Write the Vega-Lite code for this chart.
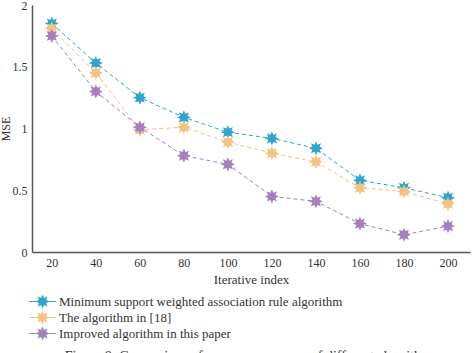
{
  "$schema": "https://vega.github.io/schema/vega-lite/v6.json",
  "width": 438,
  "height": 247,
  "autosize": "none",
  "padding": {"left": 32, "top": 5, "right": 4, "bottom": 101},
  "background": "white",
  "config": {"font": "Liberation Serif", "view": {"stroke": null}},
  "title": {"text": "Figure 8: Comparison of mean square error of different algorithms", "orient": "bottom", "anchor": "middle", "fontSize": 14, "fontWeight": "normal", "color": "#333", "offset": 9},
  "data": {"values": [
    {"iter": 20, "mse": 1.85, "alg": "Minimum support weighted association rule algorithm"},
    {"iter": 40, "mse": 1.53, "alg": "Minimum support weighted association rule algorithm"},
    {"iter": 60, "mse": 1.25, "alg": "Minimum support weighted association rule algorithm"},
    {"iter": 80, "mse": 1.09, "alg": "Minimum support weighted association rule algorithm"},
    {"iter": 100, "mse": 0.97, "alg": "Minimum support weighted association rule algorithm"},
    {"iter": 120, "mse": 0.92, "alg": "Minimum support weighted association rule algorithm"},
    {"iter": 140, "mse": 0.84, "alg": "Minimum support weighted association rule algorithm"},
    {"iter": 160, "mse": 0.58, "alg": "Minimum support weighted association rule algorithm"},
    {"iter": 180, "mse": 0.52, "alg": "Minimum support weighted association rule algorithm"},
    {"iter": 200, "mse": 0.44, "alg": "Minimum support weighted association rule algorithm"},
    {"iter": 20, "mse": 1.81, "alg": "The algorithm in [18]"},
    {"iter": 40, "mse": 1.45, "alg": "The algorithm in [18]"},
    {"iter": 60, "mse": 0.99, "alg": "The algorithm in [18]"},
    {"iter": 80, "mse": 1.01, "alg": "The algorithm in [18]"},
    {"iter": 100, "mse": 0.89, "alg": "The algorithm in [18]"},
    {"iter": 120, "mse": 0.80, "alg": "The algorithm in [18]"},
    {"iter": 140, "mse": 0.73, "alg": "The algorithm in [18]"},
    {"iter": 160, "mse": 0.52, "alg": "The algorithm in [18]"},
    {"iter": 180, "mse": 0.49, "alg": "The algorithm in [18]"},
    {"iter": 200, "mse": 0.39, "alg": "The algorithm in [18]"},
    {"iter": 20, "mse": 1.75, "alg": "Improved algorithm in this paper"},
    {"iter": 40, "mse": 1.30, "alg": "Improved algorithm in this paper"},
    {"iter": 60, "mse": 1.01, "alg": "Improved algorithm in this paper"},
    {"iter": 80, "mse": 0.78, "alg": "Improved algorithm in this paper"},
    {"iter": 100, "mse": 0.71, "alg": "Improved algorithm in this paper"},
    {"iter": 120, "mse": 0.45, "alg": "Improved algorithm in this paper"},
    {"iter": 140, "mse": 0.41, "alg": "Improved algorithm in this paper"},
    {"iter": 160, "mse": 0.23, "alg": "Improved algorithm in this paper"},
    {"iter": 180, "mse": 0.14, "alg": "Improved algorithm in this paper"},
    {"iter": 200, "mse": 0.21, "alg": "Improved algorithm in this paper"}
  ]},
  "encoding": {
    "x": {"field": "iter", "type": "quantitative",
      "scale": {"domain": [11, 210], "nice": false, "zero": false},
      "axis": {"values": [20, 40, 60, 80, 100, 120, 140, 160, 180, 200], "title": "Iterative index", "grid": false, "ticks": false, "domainColor": "#555", "domainWidth": 1.5, "labelFontSize": 12, "labelColor": "#333", "labelPadding": 5, "titleFontSize": 13, "titleFontWeight": "normal", "titleColor": "#333", "titlePadding": 5}},
    "y": {"field": "mse", "type": "quantitative",
      "scale": {"domain": [0, 2], "nice": false},
      "axis": {"values": [0, 0.5, 1, 1.5, 2], "format": "~g", "title": "MSE", "grid": false, "ticks": false, "domainColor": "#555", "domainWidth": 1.5, "labelFontSize": 12, "labelColor": "#333", "labelPadding": 5, "titleFontSize": 12, "titleFontWeight": "normal", "titleColor": "#333", "titlePadding": 0}},
    "color": {"field": "alg", "type": "nominal", "sort": null,
      "scale": {"domain": ["Minimum support weighted association rule algorithm", "The algorithm in [18]", "Improved algorithm in this paper"], "range": ["#2fa4cc", "#f4c283", "#a57fc0"]},
      "legend": {"orient": "none", "legendX": 3, "legendY": 289, "title": null, "labelFontSize": 13, "labelColor": "#333", "labelLimit": 0, "symbolSize": 200, "rowPadding": 1, "labelOffset": 9, "symbolStrokeWidth": 0,
        "symbolType": "M0,-1L0.21,-0.51L0.707,-0.707L0.51,-0.21L1,0L0.51,0.21L0.707,0.707L0.21,0.51L0,1L-0.21,0.51L-0.707,0.707L-0.51,0.21L-1,0L-0.51,-0.21L-0.707,-0.707L-0.21,-0.51ZM-1.9,-0.06L1.9,-0.06L1.9,0.06L-1.9,0.06Z"}}
  },
  "layer": [
    {"mark": {"type": "line", "strokeDash": [4, 3], "strokeWidth": 1}},
    {"mark": {"type": "point", "filled": true, "opacity": 1, "size": 200, "strokeWidth": 0,
      "shape": "M0,-1L0.21,-0.51L0.707,-0.707L0.51,-0.21L1,0L0.51,0.21L0.707,0.707L0.21,0.51L0,1L-0.21,0.51L-0.707,0.707L-0.51,0.21L-1,0L-0.51,-0.21L-0.707,-0.707L-0.21,-0.51Z"}}
  ]
}
